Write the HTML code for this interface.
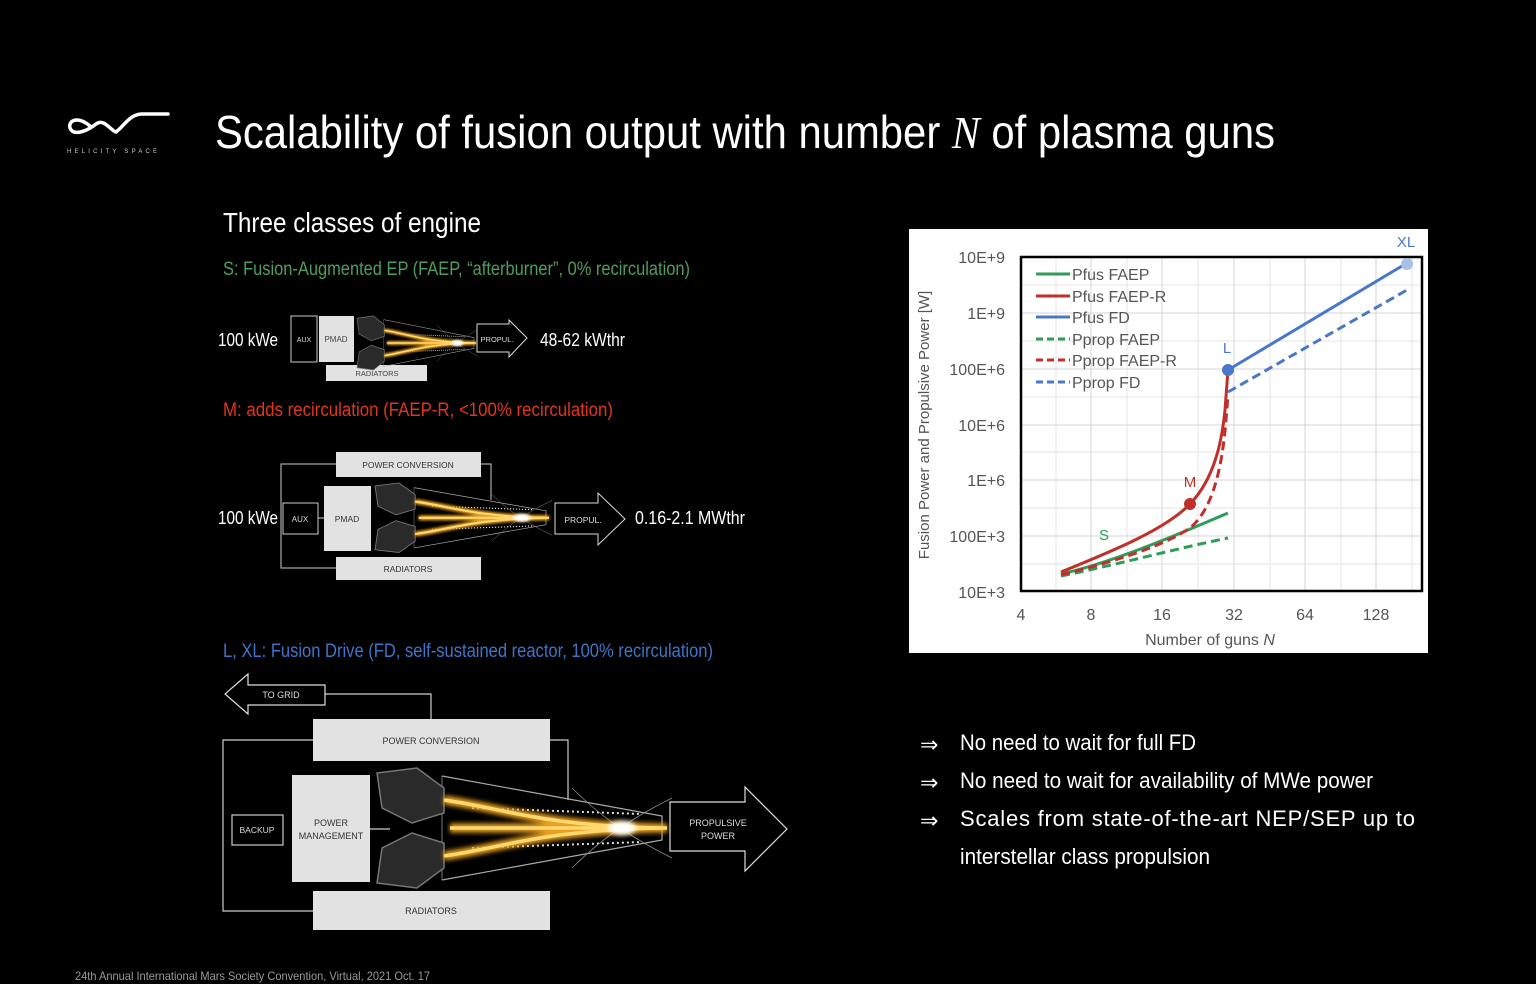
<!DOCTYPE html>
<html><head><meta charset="utf-8"><style>
html,body{margin:0;padding:0;background:#000;}
svg{display:block;}
text{font-family:"Liberation Sans",sans-serif;}
</style></head><body>
<svg width="1536" height="984" viewBox="0 0 1536 984" xmlns="http://www.w3.org/2000/svg">
<defs>
<filter id="glow" x="-20%" y="-50%" width="140%" height="200%"><feGaussianBlur stdDeviation="2.5"/></filter>
<g id="eng">
  <polyline points="70,8 290,48 290,72 70,112" fill="none" stroke="#aaa" stroke-width="1.2"/>
  <line x1="70" y1="8" x2="70" y2="112" stroke="#777" stroke-width="1"/>
  <path d="M5,5 L45,0 L72,20 L72,45 L40,55 L10,40 Z" fill="#2a2a2a" stroke="#777" stroke-width="1.5"/>
  <path d="M5,115 L45,120 L72,100 L72,75 L40,65 L10,80 Z" fill="#2a2a2a" stroke="#777" stroke-width="1.5"/>
  <g stroke="#ddd" stroke-width="2" stroke-dasharray="2 3">
    <line x1="100" y1="40" x2="270" y2="46"/><line x1="100" y1="80" x2="270" y2="74"/>
  </g>
  <g fill="none" stroke="#888" stroke-width="0.8">
    <path d="M200,20 C230,50 260,70 300,90"/><path d="M200,100 C230,70 260,50 300,30"/>
  </g>
  <g fill="none" stroke="#e8a020" stroke-width="9" filter="url(#glow)">
    <path d="M72,32 C130,40 170,58 290,60"/><path d="M72,88 C130,80 170,62 290,60"/><path d="M78,60 L295,60"/>
  </g>
  <g fill="none" stroke="#ffd870" stroke-width="3.5">
    <path d="M72,32 C130,40 170,58 290,60"/><path d="M72,88 C130,80 170,62 290,60"/><path d="M78,60 L295,60"/>
  </g>
  <ellipse cx="250" cy="60" rx="14" ry="7" fill="#fff" filter="url(#glow)"/>
</g>
</defs>

<!-- logo -->
<g fill="none" stroke="#fff" stroke-width="3.5" stroke-linecap="round">
  <path d="M90,126 C78,116 68,120 70,128 C73,136 86,132 96,124 C104,118 110,130 116,132 C124,126 130,114 142,114 L168,114"/>
</g>
<text x="67" y="153" font-size="6" fill="#ccc" letter-spacing="3.2">HELICITY SPACE</text>

<!-- title -->
<text x="215" y="148" font-size="46" fill="#fff" textLength="1060" lengthAdjust="spacingAndGlyphs">Scalability of fusion output with number <tspan font-family="Liberation Serif" font-style="italic">N</tspan> of plasma guns</text>

<text x="223" y="232" font-size="28" fill="#fff" textLength="258" lengthAdjust="spacingAndGlyphs">Three classes of engine</text>
<text x="223" y="275" font-size="19" fill="#4f9d5c" textLength="467" lengthAdjust="spacingAndGlyphs">S: Fusion-Augmented EP (FAEP, “afterburner”, 0% recirculation)</text>
<text x="223" y="416" font-size="19" fill="#e2351f" textLength="390" lengthAdjust="spacingAndGlyphs">M: adds recirculation (FAEP-R, &lt;100% recirculation)</text>
<text x="223" y="657" font-size="19" fill="#3f74c8" textLength="490" lengthAdjust="spacingAndGlyphs">L, XL: Fusion Drive (FD, self-sustained reactor, 100% recirculation)</text>

<!-- Diagram 1 -->
<text x="218" y="346" font-size="18" fill="#fff" textLength="60" lengthAdjust="spacingAndGlyphs">100 kWe</text>
<rect x="291" y="316" width="26" height="46" fill="none" stroke="#ccc" stroke-width="1"/>
<text x="304" y="342" font-size="7" fill="#ddd" text-anchor="middle">AUX</text>
<rect x="319" y="316" width="35" height="46" fill="#e2e2e2"/>
<text x="336" y="342" font-size="8" fill="#444" text-anchor="middle">PMAD</text>
<rect x="326" y="365" width="101" height="16" fill="#e2e2e2"/>
<text x="377" y="376" font-size="7.5" fill="#444" text-anchor="middle">RADIATORS</text>
<use href="#eng" transform="translate(355,316) scale(0.41,0.45)"/>
<path d="M477,324 L509,324 L509,320 L527,338 L509,357 L509,352 L477,352 Z" fill="#000" stroke="#ddd" stroke-width="1"/>
<text x="497" y="342" font-size="7.5" fill="#ddd" text-anchor="middle">PROPUL.</text>
<text x="540" y="346" font-size="18" fill="#fff" textLength="85" lengthAdjust="spacingAndGlyphs">48-62 kWthr</text>

<!-- Diagram 2 -->
<g fill="none" stroke="#ccc" stroke-width="1">
  <polyline points="336,464 281,464 281,568 336,568"/>
  <polyline points="481,464 491,464 491,500"/>
  <line x1="318" y1="518" x2="324" y2="518"/>
</g>
<rect x="336" y="452" width="145" height="25" fill="#e2e2e2"/>
<text x="408" y="468" font-size="8.5" fill="#333" text-anchor="middle">POWER CONVERSION</text>
<rect x="283" y="503" width="35" height="31" fill="none" stroke="#ccc"/>
<text x="300" y="522" font-size="8" fill="#ddd" text-anchor="middle">AUX</text>
<rect x="324" y="486" width="47" height="65" fill="#e2e2e2"/>
<text x="347" y="522" font-size="8.5" fill="#333" text-anchor="middle">PMAD</text>
<rect x="336" y="557" width="145" height="23" fill="#e2e2e2"/>
<text x="408" y="572" font-size="8.5" fill="#333" text-anchor="middle">RADIATORS</text>
<use href="#eng" transform="translate(372,483) scale(0.6,0.58)"/>
<path d="M555,503 L598,503 L598,493 L625,519 L598,545 L598,534 L555,534 Z" fill="#000" stroke="#ddd" stroke-width="1"/>
<text x="583" y="523" font-size="8.5" fill="#ddd" text-anchor="middle">PROPUL.</text>
<text x="218" y="524" font-size="18" fill="#fff" textLength="60" lengthAdjust="spacingAndGlyphs">100 kWe</text>
<text x="635" y="524" font-size="18" fill="#fff" textLength="110" lengthAdjust="spacingAndGlyphs">0.16-2.1 MWthr</text>

<!-- Diagram 3 -->
<g fill="none" stroke="#ccc" stroke-width="1.2">
  <polyline points="325,694 431,694 431,719"/>
  <polyline points="313,740 223,740 223,911 313,911"/>
  <polyline points="550,740 568,740 568,800"/>
  <line x1="370" y1="829" x2="390" y2="829"/>
</g>
<path d="M325,685 L248,685 L248,674 L225,694 L248,714 L248,705 L325,705 Z" fill="#000" stroke="#ddd" stroke-width="1.2"/>
<text x="281" y="698" font-size="9" fill="#ddd" text-anchor="middle">TO GRID</text>
<rect x="313" y="719" width="237" height="42" fill="#e2e2e2"/>
<text x="431" y="744" font-size="9" fill="#333" text-anchor="middle">POWER CONVERSION</text>
<rect x="232" y="815" width="51" height="30" fill="none" stroke="#ccc" stroke-width="1.2"/>
<text x="257" y="833" font-size="8.5" fill="#ddd" text-anchor="middle">BACKUP</text>
<rect x="292" y="775" width="78" height="107" fill="#e2e2e2"/>
<text x="331" y="826" font-size="9" fill="#333" text-anchor="middle">POWER</text>
<text x="331" y="839" font-size="9" fill="#333" text-anchor="middle">MANAGEMENT</text>
<rect x="313" y="891" width="237" height="39" fill="#e2e2e2"/>
<text x="431" y="914" font-size="9" fill="#333" text-anchor="middle">RADIATORS</text>
<use href="#eng" transform="translate(372,768) scale(1.0,1.0)"/>
<path d="M670,802 L745,802 L745,787 L787,829 L745,871 L745,851 L670,851 Z" fill="#000" stroke="#ddd" stroke-width="1.2"/>
<text x="718" y="826" font-size="9" fill="#ddd" text-anchor="middle">PROPULSIVE</text>
<text x="718" y="839" font-size="9" fill="#ddd" text-anchor="middle">POWER</text>

<!-- Chart -->
<rect x="909" y="229" width="519" height="424" fill="#fff"/>
<g stroke="#e6e6e6" stroke-width="1">
  <line x1="1021" y1="285" x2="1421" y2="285"/><line x1="1021" y1="341" x2="1421" y2="341"/>
  <line x1="1021" y1="397" x2="1421" y2="397"/><line x1="1021" y1="452" x2="1421" y2="452"/>
  <line x1="1021" y1="508" x2="1421" y2="508"/><line x1="1021" y1="564" x2="1421" y2="564"/>
  <line x1="1056" y1="257" x2="1056" y2="591"/><line x1="1127" y1="257" x2="1127" y2="591"/>
  <line x1="1198" y1="257" x2="1198" y2="591"/><line x1="1270" y1="257" x2="1270" y2="591"/>
  <line x1="1341" y1="257" x2="1341" y2="591"/><line x1="1412" y1="257" x2="1412" y2="591"/>
</g>
<g stroke="#d4d4d4" stroke-width="1">
  <line x1="1021" y1="313" x2="1421" y2="313"/><line x1="1021" y1="369" x2="1421" y2="369"/>
  <line x1="1021" y1="425" x2="1421" y2="425"/><line x1="1021" y1="480" x2="1421" y2="480"/>
  <line x1="1021" y1="536" x2="1421" y2="536"/>
  <line x1="1091" y1="257" x2="1091" y2="591"/><line x1="1162" y1="257" x2="1162" y2="591"/>
  <line x1="1234" y1="257" x2="1234" y2="591"/><line x1="1305" y1="257" x2="1305" y2="591"/>
  <line x1="1376" y1="257" x2="1376" y2="591"/>
</g>
<rect x="1021" y="257" width="401" height="334" fill="none" stroke="#000" stroke-width="2.5"/>
<g font-size="16" fill="#555" text-anchor="end">
  <text x="1005" y="263">10E+9</text><text x="1005" y="319">1E+9</text>
  <text x="1005" y="375">100E+6</text><text x="1005" y="431">10E+6</text>
  <text x="1005" y="486">1E+6</text><text x="1005" y="542">100E+3</text>
  <text x="1005" y="598">10E+3</text>
</g>
<g font-size="16" fill="#555" text-anchor="middle">
  <text x="1021" y="620">4</text><text x="1091" y="620">8</text><text x="1162" y="620">16</text>
  <text x="1234" y="620">32</text><text x="1305" y="620">64</text><text x="1376" y="620">128</text>
</g>
<text x="1210" y="645" font-size="16" fill="#555" text-anchor="middle">Number of guns  <tspan font-style="italic">N</tspan></text>
<text transform="translate(929,425) rotate(-90)" font-size="15" fill="#555" text-anchor="middle">Fusion Power and Propulsive Power [W]</text>

<!-- series -->
<g fill="none" stroke-width="3">
  <path d="M1061,576 C1120,564 1170,550 1228,538" stroke="#2e9d5a" stroke-dasharray="9 5"/>
  <path d="M1061,574 C1110,563 1170,538 1228,513" stroke="#2e9d5a"/>
  <path d="M1061,575 C1120,560 1165,545 1190,528 C1212,510 1222,470 1226,420 L1228,395" stroke="#c0302a" stroke-dasharray="9 5"/>
  <path d="M1061,572 C1110,552 1165,530 1190,504 C1215,478 1222,440 1225,410 L1228,370" stroke="#c0302a"/>
  <path d="M1228,370 L1407,263" stroke="#4a78c8"/>
  <path d="M1228,392 L1407,290" stroke="#4a78c8" stroke-dasharray="9 5"/>
</g>
<circle cx="1228" cy="370" r="6" fill="#4a78c8"/>
<circle cx="1407" cy="264" r="6" fill="#aac0e6"/>
<circle cx="1190" cy="504" r="6" fill="#c0302a"/>
<text x="1104" y="540" font-size="15" fill="#2e9d5a" text-anchor="middle">S</text>
<text x="1190" y="487" font-size="15" fill="#c0302a" text-anchor="middle">M</text>
<text x="1227" y="353" font-size="15" fill="#4a78c8" text-anchor="middle">L</text>
<text x="1406" y="247" font-size="15" fill="#4a78c8" text-anchor="middle">XL</text>

<!-- legend -->
<g stroke-width="3">
  <line x1="1036" y1="274" x2="1070" y2="274" stroke="#2e9d5a"/>
  <line x1="1036" y1="296" x2="1070" y2="296" stroke="#c0302a"/>
  <line x1="1036" y1="317" x2="1070" y2="317" stroke="#4a78c8"/>
  <line x1="1036" y1="339" x2="1070" y2="339" stroke="#2e9d5a" stroke-dasharray="7 4"/>
  <line x1="1036" y1="360" x2="1070" y2="360" stroke="#c0302a" stroke-dasharray="7 4"/>
  <line x1="1036" y1="382" x2="1070" y2="382" stroke="#4a78c8" stroke-dasharray="7 4"/>
</g>
<g font-size="16" fill="#555">
  <text x="1072" y="280">Pfus FAEP</text><text x="1072" y="302">Pfus FAEP-R</text>
  <text x="1072" y="323">Pfus FD</text><text x="1072" y="345">Pprop FAEP</text>
  <text x="1072" y="366">Pprop FAEP-R</text><text x="1072" y="388">Pprop FD</text>
</g>

<!-- bullets -->
<g font-size="22" fill="#fff">
  <text x="920" y="752">⇒</text><text x="920" y="790">⇒</text><text x="920" y="828">⇒</text>
  <text x="960" y="750" textLength="236" lengthAdjust="spacingAndGlyphs">No need to wait for full FD</text>
  <text x="960" y="788" textLength="413" lengthAdjust="spacingAndGlyphs">No need to wait for availability of MWe power</text>
  <text x="960" y="826" textLength="455" lengthAdjust="spacing">Scales  from  state-of-the-art  NEP/SEP  up  to</text>
  <text x="960" y="864" textLength="250" lengthAdjust="spacingAndGlyphs">interstellar class propulsion</text>
</g>

<text x="75" y="980" font-size="12" fill="#999" textLength="355" lengthAdjust="spacingAndGlyphs">24th Annual International Mars Society Convention, Virtual, 2021 Oct. 17</text>
</svg>
</body></html>
